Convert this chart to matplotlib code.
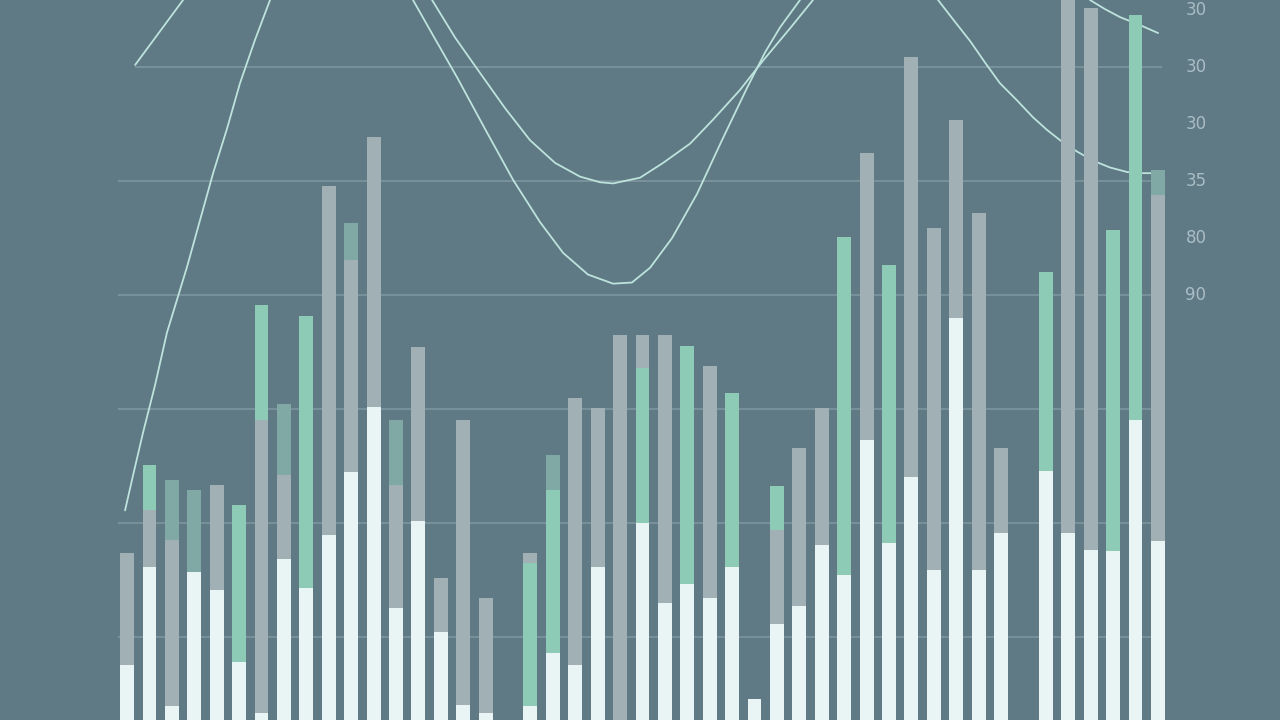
import numpy as np
import matplotlib
matplotlib.use("Agg")
import matplotlib.pyplot as plt

# bar slots (NaN = empty slot)
slots = np.arange(47)
total = [17.4, 25.1, 23.8, 22.9, 23.3, 21.6, 39.1, 30.4, 38.2, 49.6,
         46.3, 53.9, 29.0, 35.4, 15.2, 29.0, 13.4, np.nan, 17.4, 26.0,
         31.0, 30.1, 36.5, 36.5, 36.5, 35.5, 33.8, 31.4, 4.5, 23.2,
         26.6, 30.1, 45.1, 52.5, 42.6, 60.9, 45.9, 55.4, 47.2, 26.6,
         np.nan, 42.0, 67.0, 65.2, 45.7, 64.6, 51.0]
white = [7.5, 16.1, 3.9, 15.7, 14.1, 7.8, 3.3, 16.8, 14.3, 18.9,
         24.5, 30.2, 12.5, 20.2, 10.4, 4.0, 3.3, np.nan, 3.9, 8.6,
         7.5, 16.1, 2.0, 20.0, 13.0, 14.6, 13.4, 16.1, 4.5, 11.1,
         12.7, 18.1, 15.4, 27.3, 18.2, 24.0, 15.9, 38.0, 15.9, 19.1,
         np.nan, 24.6, 19.1, 17.6, 17.5, 29.0, 18.4]
# where the tip colour begins (== total if no tip)
tip_start = [17.4, 21.1, 18.5, 22.9, 23.3, 21.6, 29.0, 24.2, 38.2, 49.6,
             43.1, 53.9, 23.3, 35.4, 15.2, 29.0, 13.4, np.nan, 16.5, 22.9,
             31.0, 30.1, 36.5, 33.6, 36.5, 35.5, 33.8, 31.4, 4.5, 19.4,
             26.6, 30.1, 45.1, 52.5, 42.6, 60.9, 45.9, 55.4, 47.2, 26.6,
             np.nan, 42.0, 67.0, 65.2, 45.7, 64.6, 48.8]
mid_col = "GGGTGMGGMGGGGGGGG-MMGGGMGMGMWGGGMGMGGGGG-MGGMMG"
tip_col = "GMTTGMMTMGTGTGGGG-GTGGGGGMGMWMGGMGMGGGGG-MGGMMT"

# lines (x in slots, y in values)
line_a_x = [-0.09, 0.27, 0.71, 1.25, 1.78, 2.23, 2.68, 3.26, 3.84, 4.46, 5.04, 5.71, 6.38]
line_a_y = [21.1, 24.2, 27.9, 32.1, 36.7, 39.6, 42.5, 46.6, 50.7, 54.6, 58.6, 62.4, 65.9]
line_b_x = [0.36, 2.50]
line_b_y = [60.2, 65.9]
line_c_x = [12.76, 13.74, 14.73, 15.97, 17.23, 18.43, 19.46, 20.57, 21.69, 22.53,
            23.34, 24.32, 25.44, 26.55, 27.67, 28.47, 29.14, 30.03]
line_c_y = [65.9, 62.5, 59.1, 54.6, 50.1, 46.4, 43.7, 41.8, 41.0, 41.1,
            42.4, 45.0, 48.9, 53.6, 58.2, 61.3, 63.5, 65.9]
line_d_x = [13.61, 14.64, 15.75, 16.87, 17.98, 19.10, 20.21, 21.11, 21.69, 22.89,
            23.92, 25.13, 26.15, 27.35, 28.39, 29.58, 30.61]
line_d_y = [65.9, 62.6, 59.5, 56.4, 53.6, 51.6, 50.4, 49.9, 49.8, 50.3,
            51.6, 53.3, 55.4, 58.0, 60.6, 63.4, 65.9]
line_e_x = [36.19, 36.90, 37.62, 38.29, 38.95, 39.71, 40.43, 41.05, 41.63, 42.39,
            43.11, 43.86, 44.63, 45.20, 45.78]
line_e_y = [65.9, 64.1, 62.3, 60.4, 58.6, 57.1, 55.6, 54.5, 53.6, 52.6,
            51.8, 51.2, 50.8, 50.7, 50.7]
line_f_x = [42.97, 43.64, 44.31, 45.20, 46.01]
line_f_y = [65.9, 65.1, 64.4, 63.7, 63.0]

grid_vals = [10, 20, 30, 40, 50, 60]
label_vals = [65, 60, 55, 50, 45, 40]
label_txt = ["30", "30", "30", "35", "80", "90"]

bg = "#5f7985"
colors = {"G": "#a0b0b5", "M": "#8ecbb6", "T": "#80a8a5", "W": "#e9f4f4"}

fig = plt.figure(figsize=(12.8, 7.2), dpi=100)
fig.patch.set_facecolor(bg)
ax = fig.add_axes([0, 0, 1, 1])
ax.set_facecolor(bg)
ax.set_xlim(-5.67, 51.45)
ax.set_ylim(2.7, 65.9)
ax.axis("off")

for v in grid_vals:
    x0 = 0.35 if v == 60 else -0.4
    ax.hlines(v, x0, 46.2, color="#8aa1aa", lw=1.2, alpha=0.7, zorder=1)

for xs, ys in [(line_a_x, line_a_y), (line_b_x, line_b_y), (line_c_x, line_c_y),
               (line_d_x, line_d_y), (line_e_x, line_e_y), (line_f_x, line_f_y)]:
    ax.plot(xs, ys, color="#bde4dc", lw=1.3, zorder=2,
            solid_capstyle="round", solid_joinstyle="round")

w = 0.62
for i in slots:
    t, wh, ts = total[i], white[i], tip_start[i]
    if np.isnan(t):
        continue
    ax.bar(i, wh, width=w, color=colors["W"], zorder=3)
    if ts > wh:
        ax.bar(i, ts - wh, bottom=wh, width=w, color=colors[mid_col[i]], zorder=3)
    if t > ts:
        ax.bar(i, t - ts, bottom=ts, width=w, color=colors[tip_col[i]], zorder=3)

for v, s in zip(label_vals, label_txt):
    ax.text(47.7, v, s, color="#a9bdc4", fontsize=12, ha="center", va="center")

fig.savefig("out.png", dpi=100, facecolor=bg)
